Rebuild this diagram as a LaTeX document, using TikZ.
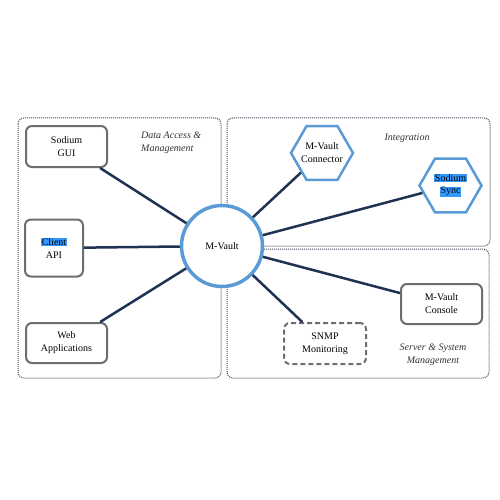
\documentclass[tikz,border=0pt]{standalone}
\usepackage{fontspec}
\setmainfont{Liberation Serif}
\usetikzlibrary{shapes.geometric}
\definecolor{boxgray}{RGB}{110,110,110}
\definecolor{hexblue}{RGB}{91,155,213}
\definecolor{linknavy}{RGB}{31,50,84}
\definecolor{groupgray}{RGB}{70,80,95}
\definecolor{hilite}{RGB}{51,153,255}
\newcommand{\hl}[1]{{\setlength{\fboxsep}{0.5pt}\colorbox{hilite}{#1}}}
\newcommand{\zw}[1]{\makebox[0pt][c]{#1}}
\begin{document}
\begin{tikzpicture}[x=1pt,y=-1pt,
  txt/.style={font=\fontsize{10}{13}\selectfont, align=center, text=black},
  grp/.style={draw=groupgray, line width=1pt, densely dotted, rounded corners=6pt},
  rbox/.style={txt, draw=boxgray, fill=white, line width=2pt, rounded corners=6pt, inner sep=0pt},
  hexbox/.style={txt, draw=hexblue, fill=white, line width=2.5pt, regular polygon, regular polygon sides=6, minimum size=62pt, inner sep=0pt},
  link/.style={draw=linknavy, line width=2.5pt},
  glabel/.style={font=\itshape\fontsize{10}{13}\selectfont, text=black!80, inner sep=0pt}
]
\useasboundingbox (0,0) rectangle (500,500);
\fill[white] (0,0) rectangle (500,500);

% groups
\draw[grp] (18,118) rectangle (221,378);
\draw[grp] (227,118) rectangle (490,246);
\draw[grp] (227,249) rectangle (489,378);

% group labels
\node[glabel, align=left, anchor=north west] (lblA) at (141,132) {Data Access \&\\Management};
\node[glabel] (lblI) at (407,138) {Integration};
\node[glabel, align=center] (lblS) at (433,355) {Server \& System\\Management};

\path (222,246) coordinate (mvc);
\node[rbox, minimum width=81pt, minimum height=41pt] (gui) at (66.5,146.5) {Sodium\\GUI};
\node[rbox, minimum width=58pt, minimum height=57pt] (api) at (54,248) {\hl{Client}\\API};
\node[rbox, minimum width=81pt, minimum height=40pt] (web) at (66.5,343) {Web\\Applications};
\node[circle, draw=hexblue, fill=white, line width=3.5pt, minimum size=81pt, inner sep=0pt, txt] (mv) at (mvc) {M-Vault};
\node[hexbox] (conn) at (322,153) {\zw{M-Vault}\\\zw{Connector}};
\node[hexbox] (sync) at (450.5,185.5) {\zw{\hl{Sodium}}\\[-1pt]\zw{\hl{Sync}}};
\node[rbox, minimum width=81pt, minimum height=40pt] (cons) at (441.5,304) {M-Vault\\Console};
\node[rbox, dashed, dash pattern=on 5pt off 3pt, minimum width=82pt, minimum height=41pt] (snmp) at (325,343.5) {SNMP\\Monitoring};

% links
\draw[link] (gui) -- (mv);
\draw[link] (api) -- (mv);
\draw[link] (web) -- (mv);
\draw[link] (conn) -- (mv);
\draw[link] (sync) -- (mv);
\draw[link] (cons) -- (mv);
\draw[link] (snmp) -- (mv);
\end{tikzpicture}
\end{document}
